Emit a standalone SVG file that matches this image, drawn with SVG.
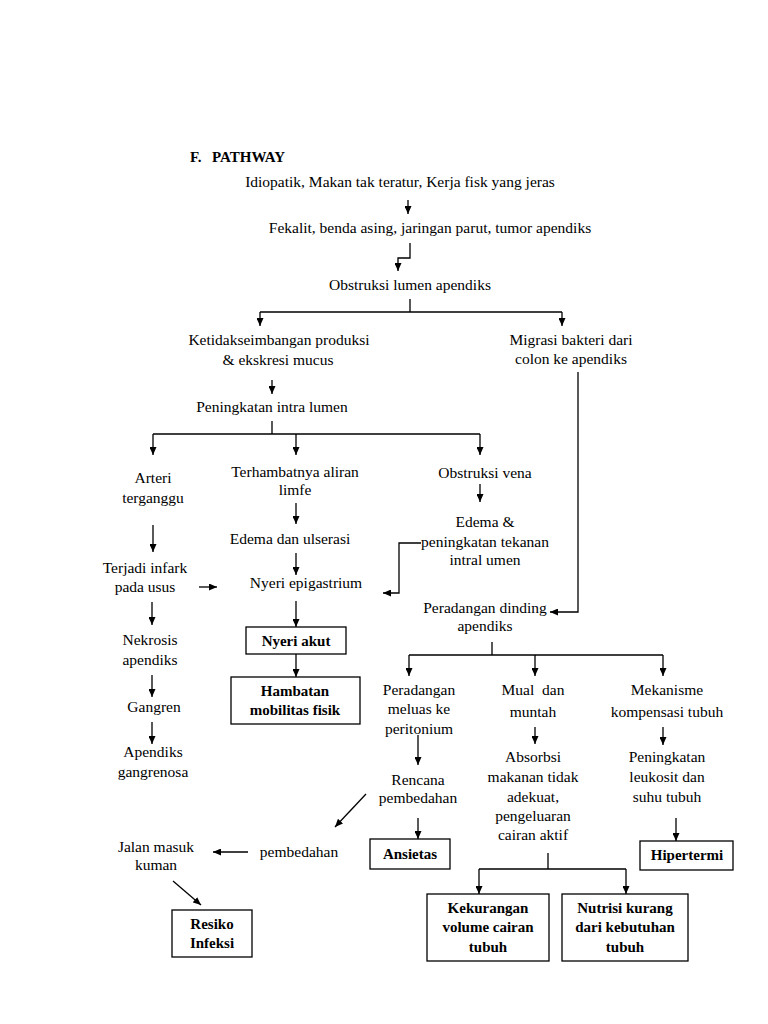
<svg xmlns="http://www.w3.org/2000/svg" width="768" height="1024" viewBox="0 0 768 1024">
<defs>
<marker id="ah" markerUnits="userSpaceOnUse" markerWidth="8" markerHeight="7" refX="8" refY="3.5" orient="auto">
<path d="M0,0 L8,3.5 L0,7 z" fill="#000"/>
</marker>
<style>
text{font-family:"Liberation Serif","Times New Roman",serif;font-size:15.5px;fill:#000;text-anchor:middle}
.b{font-weight:bold;font-size:15px}
.t{text-anchor:start;font-weight:bold;font-size:15px}
.box{fill:#fff;stroke:#000;stroke-width:1.3}
.c path{fill:none;stroke:#000;stroke-width:1.3}
.c .a{marker-end:url(#ah)}
</style>
</defs>
<rect width="768" height="1024" fill="#fff"/>
<text class="t" x="190" y="162">F.</text>
<text class="t" x="212" y="162">PATHWAY</text>
<g class="c" id="connectors">
<path class="a" d="M408,200 V214"/>
<path class="a" d="M410,243 V258 H398 V271"/>
<path d="M410,299 V312 M260,312 H562"/>
<path class="a" d="M260,312 V326"/>
<path class="a" d="M562,312 V326"/>
<path class="a" d="M272,380 V394"/>
<path d="M272,421 V434 M153,434 H480"/>
<path class="a" d="M153,434 V455"/>
<path class="a" d="M296,434 V455"/>
<path class="a" d="M480,434 V455"/>
<path class="a" d="M480,484 V502"/>
<path class="a" d="M421,543 H399 V593 H383"/>
<path class="a" d="M578,372 V612 H550"/>
<path class="a" d="M296,503 V524"/>
<path class="a" d="M296,553 V575"/>
<path class="a" d="M153,525 V552"/>
<path class="a" d="M199,587 H217"/>
<path class="a" d="M296,601 V627"/>
<path class="a" d="M296,654 V677"/>
<path class="a" d="M152,602 V625"/>
<path class="a" d="M152,675 V697"/>
<path class="a" d="M152,722 V744"/>
<path d="M492,642 V655 M409,655 H663"/>
<path class="a" d="M409,655 V676"/>
<path class="a" d="M535,655 V676"/>
<path class="a" d="M663,655 V676"/>
<path class="a" d="M418,735 V765"/>
<path class="a" d="M535,727 V744"/>
<path class="a" d="M663,727 V745"/>
<path class="a" d="M418,818 V839"/>
<path class="a" d="M676,818 V841"/>
<path d="M548,853 V869 M479,869 H626"/>
<path class="a" d="M479,869 V894"/>
<path class="a" d="M626,869 V894"/>
<path class="a" d="M366,794 L335,827"/>
<path class="a" d="M248,852 H213"/>
<path class="a" d="M173,881 L201,905"/>
</g>
<g id="n1"><text x="400" y="187">Idiopatik, Makan tak teratur, Kerja fisk yang jeras</text></g>
<g id="n2"><text x="430" y="233">Fekalit, benda asing, jaringan parut, tumor apendiks</text></g>
<g id="n3"><text x="410" y="290">Obstruksi lumen apendiks</text></g>
<g id="n4"><text x="279" y="345">Ketidakseimbangan produksi</text><text x="278" y="365">&amp; ekskresi mucus</text></g>
<g id="n5"><text x="571" y="345">Migrasi bakteri dari</text><text x="571" y="364">colon ke apendiks</text></g>
<g id="n6"><text x="272" y="412">Peningkatan intra lumen</text></g>
<g id="n7"><text x="153" y="483">Arteri</text><text x="153" y="503">terganggu</text></g>
<g id="n8"><text x="295" y="477">Terhambatnya aliran</text><text x="295" y="495">limfe</text></g>
<g id="n9"><text x="485" y="478">Obstruksi vena</text></g>
<g id="n10"><text x="485" y="527">Edema &amp;</text><text x="485" y="547">peningkatan tekanan</text><text x="485" y="565">intral umen</text></g>
<g id="n11"><text x="290" y="544">Edema dan ulserasi</text></g>
<g id="n12"><text x="145" y="573">Terjadi infark</text><text x="145" y="592">pada usus</text></g>
<g id="n13"><text x="306" y="588">Nyeri epigastrium</text></g>
<g id="n14"><text x="485" y="613">Peradangan dinding</text><text x="485" y="631">apendiks</text></g>
<g id="n15"><rect class="box" x="246" y="627" width="100" height="27"/><text class="b" x="296" y="646">Nyeri akut</text></g>
<g id="n16"><rect class="box" x="231" y="677" width="129" height="47"/><text class="b" x="295" y="696">Hambatan</text><text class="b" x="295" y="715">mobilitas fisik</text></g>
<g id="n17"><text x="150" y="645">Nekrosis</text><text x="150" y="665">apendiks</text></g>
<g id="n18"><text x="154" y="712">Gangren</text></g>
<g id="n19"><text x="153" y="757">Apendiks</text><text x="153" y="777">gangrenosa</text></g>
<g id="n20"><text x="419" y="695">Peradangan</text><text x="419" y="714">meluas ke</text><text x="419" y="734">peritonium</text></g>
<g id="n21"><text x="533" y="695">Mual&#160; dan</text><text x="533" y="717">muntah</text></g>
<g id="n22"><text x="667" y="695">Mekanisme</text><text x="667" y="717">kompensasi tubuh</text></g>
<g id="n23"><text x="533" y="762">Absorbsi</text><text x="533" y="782">makanan tidak</text><text x="533" y="802">adekuat,</text><text x="533" y="821">pengeluaran</text><text x="533" y="840">cairan aktif</text></g>
<g id="n24"><text x="667" y="762">Peningkatan</text><text x="667" y="782">leukosit dan</text><text x="667" y="802">suhu tubuh</text></g>
<g id="n25"><text x="418" y="785">Rencana</text><text x="418" y="803">pembedahan</text></g>
<g id="n26"><rect class="box" x="370" y="839" width="80" height="30"/><text class="b" x="410" y="859">Ansietas</text></g>
<g id="n27"><rect class="box" x="640" y="841" width="93" height="29"/><text class="b" x="687" y="860">Hipertermi</text></g>
<g id="n28"><rect class="box" x="427" y="894" width="122" height="67"/><text class="b" x="488" y="913">Kekurangan</text><text class="b" x="488" y="932">volume cairan</text><text class="b" x="488" y="952">tubuh</text></g>
<g id="n29"><rect class="box" x="562" y="894" width="126" height="67"/><text class="b" x="625" y="913">Nutrisi kurang</text><text class="b" x="625" y="932">dari kebutuhan</text><text class="b" x="625" y="952">tubuh</text></g>
<g id="n30"><text x="299" y="857">pembedahan</text></g>
<g id="n31"><text x="156" y="852">Jalan masuk</text><text x="156" y="870">kuman</text></g>
<g id="n32"><rect class="box" x="172" y="910" width="80" height="47"/><text class="b" x="212" y="929">Resiko</text><text class="b" x="212" y="948">Infeksi</text></g>
</svg>
